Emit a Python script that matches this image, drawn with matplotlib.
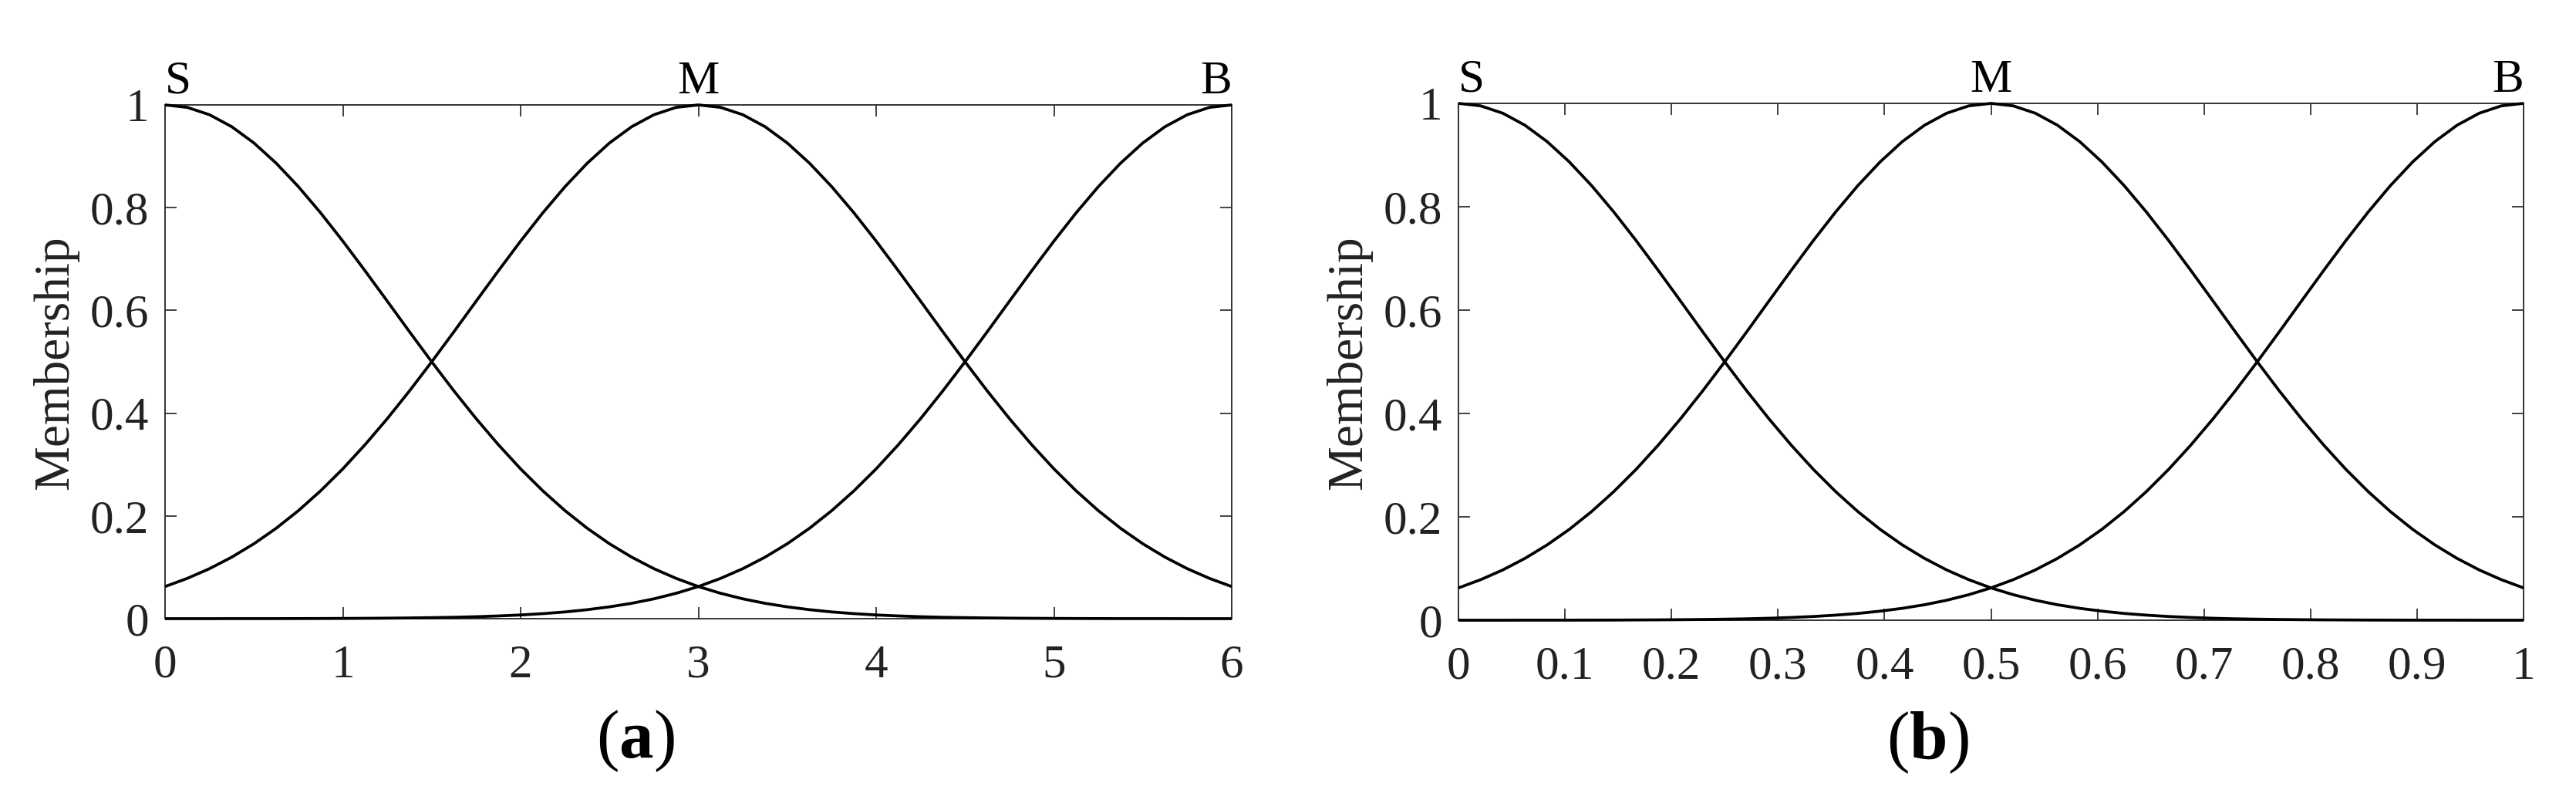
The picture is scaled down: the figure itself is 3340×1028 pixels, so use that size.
import matplotlib
matplotlib.use('Agg')
import matplotlib.pyplot as plt
import numpy as np

plt.rcParams['font.family'] = ['Liberation Serif', 'DejaVu Serif']
plt.rcParams['mathtext.fontset'] = 'custom'
plt.rcParams['mathtext.rm'] = 'Liberation Serif'
plt.rcParams['mathtext.bf'] = 'Liberation Serif:bold'

# membership, every 1/48 of the range away from a set's centre
membership_profile = [1.0000, 0.9952, 0.9809, 0.9576, 0.9259, 0.8866, 0.8409, 0.7899,
                      0.7349, 0.6771, 0.6180, 0.5585, 0.5000, 0.4433, 0.3893, 0.3386,
                      0.2916, 0.2488, 0.2102, 0.1759, 0.1458, 0.1197, 0.0973, 0.0784,
                      0.0625, 0.0494, 0.0386, 0.0299, 0.0230, 0.0175, 0.0131, 0.0098,
                      0.0072, 0.0053, 0.0038, 0.0027, 0.0020, 0.0014, 0.0010, 0.0007,
                      0.0005, 0.0003, 0.0002, 0.0001, 0.0001, 0.0001, 0.0000, 0.0000,
                      0.0000]

# S centred left, M centred middle, B centred right
small = membership_profile
medium = membership_profile[24:0:-1] + membership_profile[0:25]
big = membership_profile[::-1]

x_a = np.linspace(0, 6, 49)
x_b = np.linspace(0, 1, 49)

xticks_a = [0, 1, 2, 3, 4, 5, 6]
xlabels_a = ['0', '1', '2', '3', '4', '5', '6']
xticks_b = [0, 0.1, 0.2, 0.3, 0.4, 0.5, 0.6, 0.7, 0.8, 0.9, 1]
xlabels_b = ['0', '0.1', '0.2', '0.3', '0.4', '0.5', '0.6', '0.7', '0.8', '0.9', '1']
yticks = [0, 0.2, 0.4, 0.6, 0.8, 1]
ylabels = ['0', '0.2', '0.4', '0.6', '0.8', '1']
set_names = ['S', 'M', 'B']
panel_tags = ['a', 'b']

W, H = 3340, 1028
fig = plt.figure(figsize=(W / 100, H / 100), dpi=100)

boxes = [(214, 1597, 136, 802), (1891, 3272, 134, 804)]
panels = [(x_a, xticks_a, xlabels_a), (x_b, xticks_b, xlabels_b)]
tag_pos = [(824, 961), (2499, 963)]

spine_col = '#333333'
text_col = '#222222'

for k in range(2):
    l, r, t, b = boxes[k]
    ax = fig.add_axes([l / W, 1 - b / H, (r - l) / W, (b - t) / H])
    x, xt, xl = panels[k]

    for y in (small, medium, big):
        ax.plot(x, y, color='black', lw=2.7, clip_on=False, solid_capstyle='butt', zorder=3)

    ax.set_xlim(x[0], x[-1])
    ax.set_ylim(0, 1)
    ax.set_xticks(xt)
    ax.set_xticklabels(xl)
    ax.set_yticks(yticks)
    ax.set_yticklabels(ylabels)
    ax.tick_params(direction='in', top=True, right=True, length=11, width=1.3,
                   color=spine_col, labelsize=44, labelcolor=text_col)
    ax.tick_params(axis='x', pad=24)
    ax.tick_params(axis='y', pad=15)
    for s in ax.spines.values():
        s.set_color(spine_col)
        s.set_linewidth(1.4)

    # set names above the top edge
    xs = [x[0], (x[0] + x[-1]) / 2, x[-1]]
    has = ['left', 'center', 'right']
    for name, xx, ha in zip(set_names, xs, has):
        ax.annotate(name, (xx, 1), xytext=(0, 11), textcoords='offset points',
                    ha=ha, va='baseline', fontsize=44, color='black')

    fig.text((l - 142) / W, 1 - 470 / H, 'Membership', rotation=90,
             ha='center', va='center', fontsize=47, color=text_col)

    tx, ty = tag_pos[k]
    fig.text(tx / W, 1 - ty / H, r'($\mathbf{%s}$)' % panel_tags[k],
             ha='center', va='center', fontsize=64, color='black')

fig.savefig('out.png', dpi=100, facecolor='white')
